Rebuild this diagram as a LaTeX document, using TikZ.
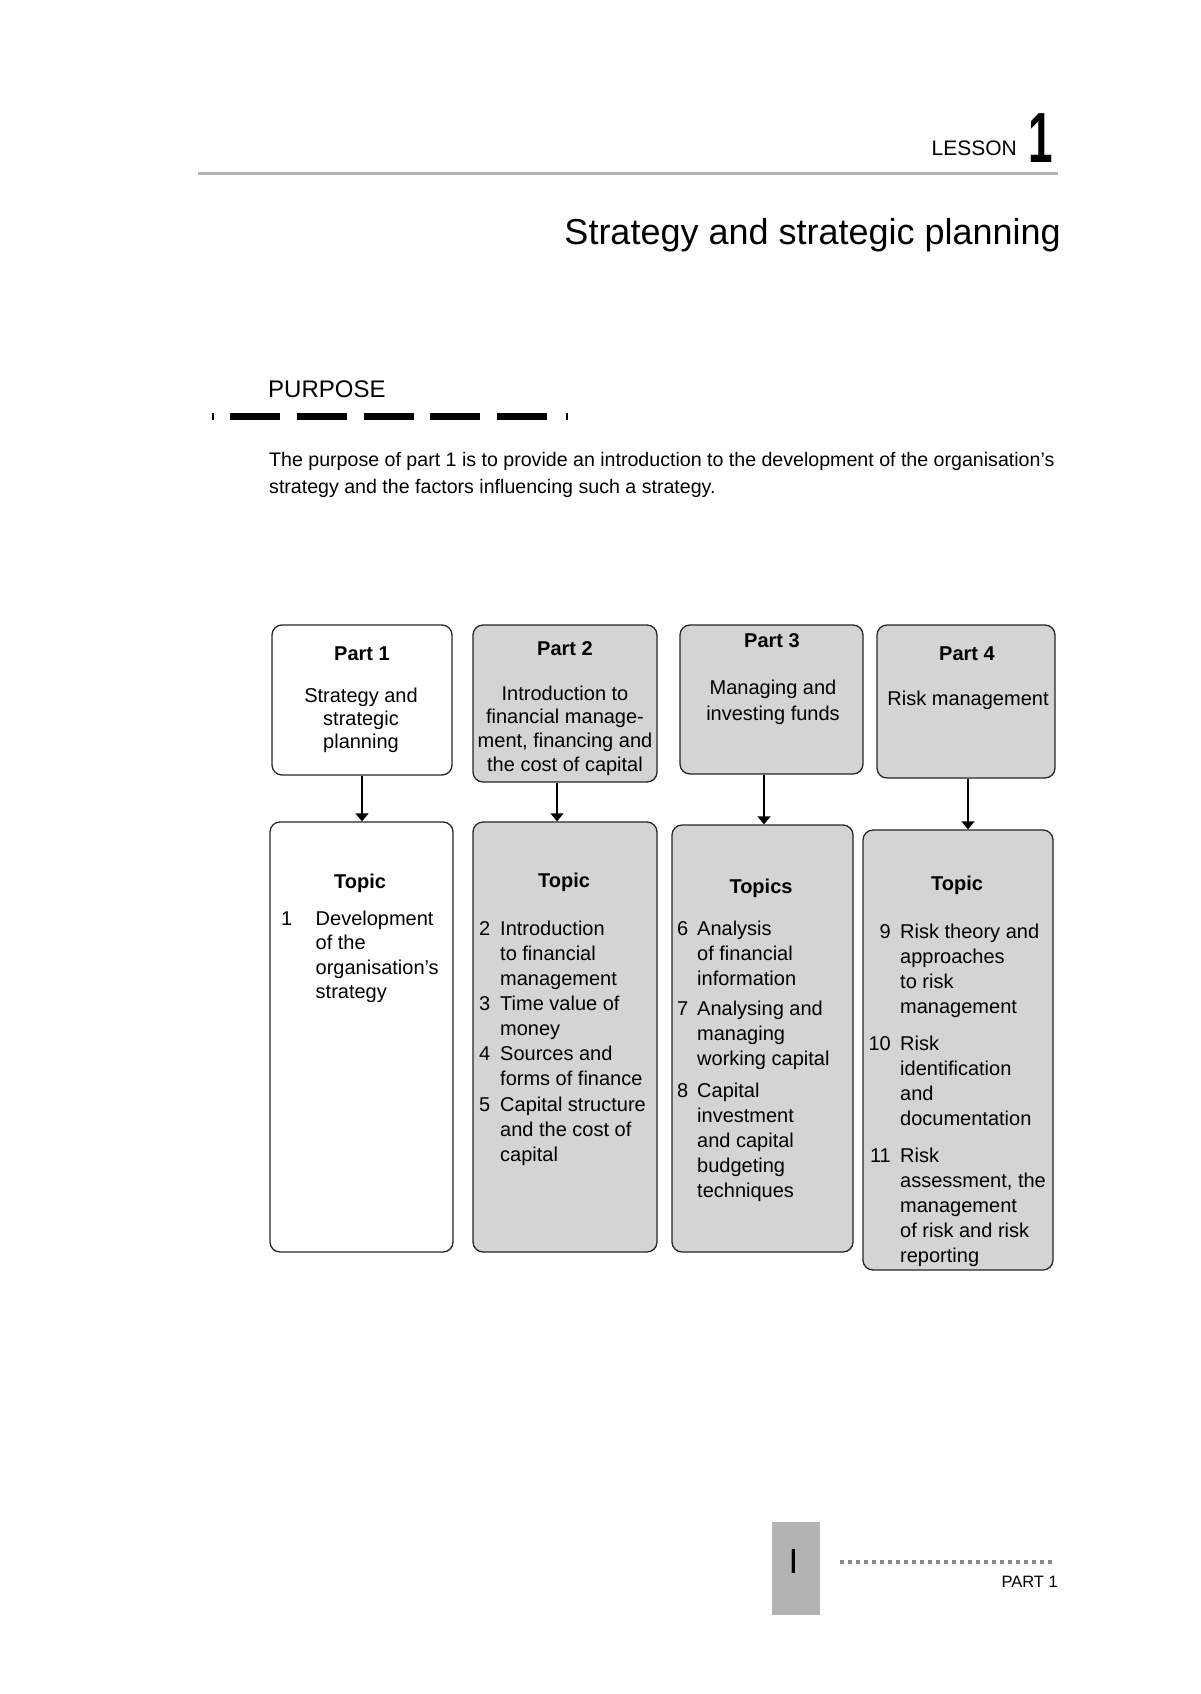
\documentclass[tikz,border=0pt]{standalone}
\usepackage{fontspec}
\setmainfont{Liberation Sans}
\usetikzlibrary{arrows.meta}
\definecolor{boxgray}{HTML}{D4D4D4}
\definecolor{footgray}{HTML}{B3B3B3}
\definecolor{rulegray}{HTML}{B4B4B4}
\definecolor{dotgray}{HTML}{8C8C8C}
\newcommand\pxsize[1]{\fontsize{#1}{#1}\selectfont}
\newcommand\itemlines[5]{%
  \foreach \mytxt [count=\i] in {#5}
    \node[txt,anchor=base west] (#1\i) at (#2,{#3+#4*(\i-1)}) {\mytxt};}
\begin{document}
\begin{tikzpicture}[x=1pt,y=-1pt,
  boxw/.style={draw=black!85,line width=1.3pt,rounded corners=10pt,inner sep=0pt,fill=white},
  boxg/.style={boxw,fill=boxgray},
  txt/.style={inner sep=0pt,font=\pxsize{20}},
  hd/.style={inner sep=0pt,font=\pxsize{20}\bfseries},
  arr/.style={line width=1.3pt,-{Triangle[width=13pt,length=8pt]}}]
\useasboundingbox (0,0) rectangle (1200,1694);

% header
\node[inner sep=0pt,anchor=base west,font=\pxsize{21}] (lesson) at (931.5,155) {LESSON};
\node[inner sep=0pt,anchor=base west,font=\pxsize{71}\bfseries] (lessonno) at (1028,162) {\scalebox{0.62}[1]{1}};
\coordinate (ruleL) at (198,173.5);
\coordinate (ruleR) at (1058,173.5);
\draw[rulegray,line width=3pt] (ruleL) -- (ruleR);
\node[inner sep=0pt,anchor=base east,font=\pxsize{36}] (title) at (1061,244) {Strategy and strategic planning};

% purpose
\node[inner sep=0pt,anchor=base west,font=\pxsize{24}] (purpose) at (268,397) {PURPOSE};
\coordinate (dashL) at (230,416.5);
\coordinate (dashR) at (547,416.5);
\draw[line width=7pt,dash pattern=on 50pt off 16.75pt] (dashL) -- (dashR);
\coordinate (tickL) at (213,413);
\coordinate (tickR) at (567,413);
\draw[line width=1.5pt] (tickL) -- ++(0,7);
\draw[line width=1.5pt] (tickR) -- ++(0,7);
\node[inner sep=0pt,anchor=base west,font=\pxsize{19.6}] (para1) at (269,466) {The purpose of part 1 is to provide an introduction to the development of the organisation's};
\node[inner sep=0pt,anchor=base west,font=\pxsize{19.6}] (para2) at (269,493) {strategy and the factors influencing such a strategy.};

% part boxes
\node[boxw,minimum width=180pt,minimum height=150pt] (p1) at (362,700) {};
\node[boxg,minimum width=184pt,minimum height=157pt] (p2) at (565,703.5) {};
\node[boxg,minimum width=183pt,minimum height=149pt] (p3) at (771.5,699.5) {};
\node[boxg,minimum width=178pt,minimum height=153pt] (p4) at (966,701.5) {};

% topic boxes
\node[boxw,minimum width=183pt,minimum height=430pt] (t1) at (361.5,1037) {};
\node[boxg,minimum width=184pt,minimum height=430pt] (t2) at (565,1037) {};
\node[boxg,minimum width=181pt,minimum height=427pt] (t3) at (762.5,1038.5) {};
\node[boxg,minimum width=190pt,minimum height=440pt] (t4) at (958,1050) {};

% arrows
\coordinate (a1) at (362,0);
\coordinate (a2) at (557,0);
\coordinate (a3) at (764,0);
\coordinate (a4) at (968,0);
\draw[arr] (a1 |- p1.south) -- (a1 |- t1.north);
\draw[arr] (a2 |- p2.south) -- (a2 |- t2.north);
\draw[arr] (a3 |- p3.south) -- (a3 |- t3.north);
\draw[arr] (a4 |- p4.south) -- (a4 |- t4.north);

% part texts
\node[hd,anchor=base] (p1h) at (362,660) {Part 1};
\node[txt,anchor=base] (p1l1) at (361,702) {Strategy and};
\node[txt,anchor=base] (p1l2) at (361,725) {strategic};
\node[txt,anchor=base] (p1l3) at (361,748) {planning};

\node[hd,anchor=base] (p2h) at (565,655) {Part 2};
\node[txt,anchor=base] (p2l1) at (565,700) {Introduction to};
\node[txt,anchor=base] (p2l2) at (565,723.5) {financial manage-};
\node[txt,anchor=base] (p2l3) at (565,747) {ment, financing and};
\node[txt,anchor=base] (p2l4) at (565,771) {the cost of capital};

\node[hd,anchor=base] (p3h) at (772,647) {Part 3};
\node[txt,anchor=base] (p3l1) at (773,694) {Managing and};
\node[txt,anchor=base] (p3l2) at (773,720) {investing funds};

\node[hd,anchor=base] (p4h) at (967,660) {Part 4};
\node[txt,anchor=base] (p4l1) at (968,705) {Risk management};

% topic headings
\node[hd,anchor=base] (t1h) at (360,888) {Topic};
\node[hd,anchor=base] (t2h) at (564,887) {Topic};
\node[hd,anchor=base] (t3h) at (761,893) {Topics};
\node[hd,anchor=base] (t4h) at (957,890) {Topic};

% topic 1
\node[txt,anchor=base west] (n1) at (281,925) {1};
\itemlines{t1i}{315.5}{925}{24.5}{Development,of the,organisation's,strategy}

% topic 2
\node[txt,anchor=base west] (n2) at (479,935) {2};
\itemlines{t2a}{500}{935}{25}{Introduction,to financial,management}
\node[txt,anchor=base west] (n3) at (479,1010) {3};
\itemlines{t2b}{500}{1010}{25}{Time value of,money}
\node[txt,anchor=base west] (n4) at (479,1060) {4};
\itemlines{t2c}{500}{1060}{25}{Sources and,forms of finance}
\node[txt,anchor=base west] (n5) at (479,1111) {5};
\itemlines{t2d}{500}{1111}{25}{Capital structure,and the cost of,capital}

% topic 3
\node[txt,anchor=base west] (n6) at (677,935) {6};
\itemlines{t3a}{697}{935}{25}{Analysis,of financial,information}
\node[txt,anchor=base west] (n7) at (677,1015) {7};
\itemlines{t3b}{697}{1015}{25}{Analysing and,managing,working capital}
\node[txt,anchor=base west] (n8) at (677,1097) {8};
\itemlines{t3c}{697}{1097}{25}{Capital,investment,and capital,budgeting,techniques}

% topic 4
\node[txt,anchor=base east] (n9) at (891,938) {9};
\itemlines{t4a}{900}{938}{25}{Risk theory and,approaches,to risk,management}
\node[txt,anchor=base east] (n10) at (891,1050) {10};
\itemlines{t4b}{900}{1050}{25}{Risk,identification,and,documentation}
\node[txt,anchor=base east] (n11) at (891,1162) {11};
\itemlines{t4c}{900}{1162}{25}{Risk,{assessment, the},management,of risk and risk,reporting}

% footer
\node[fill=footgray,inner sep=0pt,minimum width=48pt,minimum height=93pt] (fbox) at (796,1568.5) {};
\node[inner sep=0pt,anchor=base,font=\pxsize{35}] (fnum) at (793.5,1573) {I};
\coordinate (dotL) at (840,1562);
\coordinate (dotR) at (1056,1562);
\draw[dotgray,line width=3.5pt,dash pattern=on 3.5pt off 4.5pt] (dotL) -- (dotR);
\node[inner sep=0pt,anchor=base east,font=\pxsize{16.5}] (fpart) at (1058,1587) {PART 1};
\end{tikzpicture}
\end{document}
